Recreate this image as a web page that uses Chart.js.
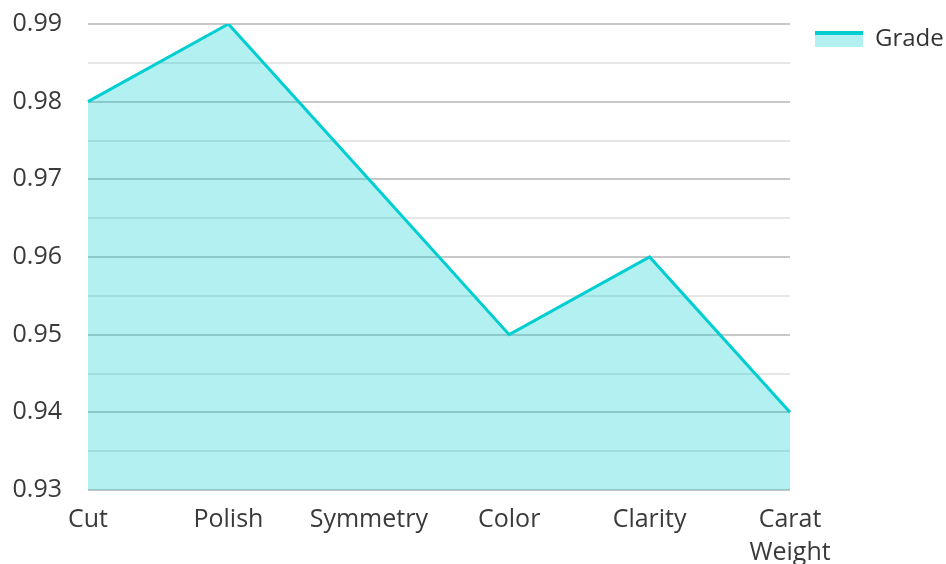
<!DOCTYPE html>
<html>
<head>
<meta charset="utf-8">
<script src="https://cdn.jsdelivr.net/npm/chart.js@4"></script>
<style>
  html, body { margin: 0; padding: 0; background: #fff; }
  #wrap { width: 946px; height: 564px; }
</style>
</head>
<body>
<div id="wrap"><canvas id="myChart" width="946" height="564"></canvas></div>
<script>
"use strict";
let labelArr = ["Cut", "Polish", "Symmetry", "Color", "Clarity", ["Carat", "Weight"]];
let gradeArr = [0.98, 0.99, 0.97, 0.95, 0.96, 0.94];
let yMin = 0.93;
let yMax = 0.99;

let lineColor = "#00ced1";
let fillColor = "rgba(0, 206, 209, 0.3)";

// legend swatch: fill box with a thick line on top
let swatch = document.createElement("canvas");
swatch.width = 48;
swatch.height = 16;
let sctx = swatch.getContext("2d");
sctx.fillStyle = fillColor;
sctx.fillRect(0, 0, 48, 16);
sctx.fillStyle = lineColor;
sctx.fillRect(0, 0, 48, 4);

Chart.defaults.font.family = "'Open Sans', sans-serif";
Chart.defaults.font.size = 25;
Chart.defaults.color = "#3a3a3a";

function isMajor(v) {
  return Math.round(v * 1000) % 10 === 0;
}

var ctx = document.getElementById("myChart").getContext("2d");
var myChart = new Chart(ctx, {
  type: "line",
  data: {
    labels: labelArr,
    datasets: [
      {
        label: "Grade",
        data: gradeArr,
        borderColor: lineColor,
        backgroundColor: fillColor,
        borderWidth: 3,
        fill: "origin",
        tension: 0,
        pointRadius: 0,
      },
    ],
  },
  options: {
    responsive: false,
    animation: false,
    layout: { padding: { left: 0, right: 0, top: 2, bottom: 0 } },
    plugins: {
      legend: {
        position: "right",
        align: "start",
        maxWidth: 156,
        labels: {
          usePointStyle: true,
          pointStyle: swatch,
          pointStyleWidth: 48,
          boxHeight: 16,
          padding: 25,
          color: "#333",
          font: { size: 24 },
        },
      },
      tooltip: { enabled: false },
    },
    scales: {
      x: {
        grid: { display: false },
        border: { display: false },
        ticks: { maxRotation: 0, autoSkip: false, padding: 6, font: { lineHeight: 1.3 } },
        afterFit: function (scale) {
          scale.height = 74;
        },
      },
      y: {
        min: yMin,
        max: yMax,
        border: { display: false },
        grid: {
          drawTicks: false,
          color: function (c) {
            return isMajor(c.tick.value) ? "#c8c8c8" : "#e6e6e6";
          },
          lineWidth: 2,
        },
        ticks: {
          stepSize: 0.005,
          autoSkip: false,
          padding: 26,
          callback: function (v) {
            return isMajor(v) ? (Math.round(v * 100) / 100).toFixed(2) : "";
          },
        },
        afterFit: function (scale) {
          scale.width = 88;
          scale.paddingTop = 24;
          scale.paddingBottom = 0;
        },
      },
    },
  },
});
</script>
</body>
</html>
